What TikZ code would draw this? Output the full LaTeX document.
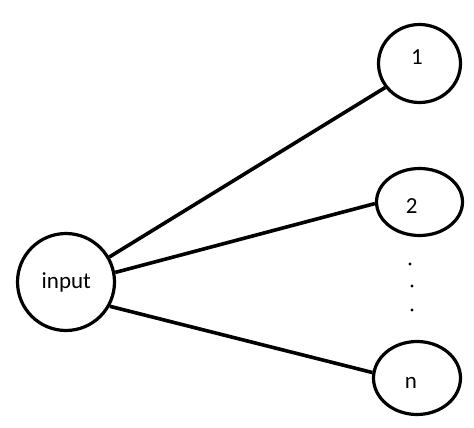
\documentclass[tikz,border=0pt]{standalone}
\usepackage{fontspec}
\setmainfont{Carlito}
\usetikzlibrary{shapes.geometric}
\tikzset{
  unit/.style={draw, ellipse, line width=3.2pt, inner sep=0pt},
  lbl/.style={anchor=base, inner sep=0pt, font=\fontsize{23}{25}\selectfont},
  link/.style={line width=3.6pt},
  dotmark/.style={circle, fill, inner sep=0pt, minimum size=3.2pt}
}
\begin{document}
\begin{tikzpicture}[x=1pt,y=-1pt]
\useasboundingbox (0,0) rectangle (474,428);
\node[unit, minimum width=97pt, minimum height=97pt] (in) at (66,282) {};
\node[unit, minimum width=82pt, minimum height=78pt] (c1) at (419.5,63.5) {};
\node[unit, minimum width=86pt, minimum height=67pt] (c2) at (419.5,202) {};
\node[unit, minimum width=87pt, minimum height=73pt] (cn) at (417,378) {};
\node[lbl] (tin) at (66.3,288.3) {input};
\node[lbl] (t1) at (417,65) {1};
\node[lbl] (t2) at (411.7,213) {2};
\node[lbl] (tn) at (411,388) {n};
\node[dotmark] (d1) at (410,264) {};
\node[dotmark] (d2) at (412,286) {};
\node[dotmark] (d3) at (412,310) {};
\draw[link] (in.30) -- (c1.215);
\draw[link] (in.11.5) -- (c2.182.7);
\draw[link] (in.-29.6) -- (cn.173.7);
\end{tikzpicture}
\end{document}
